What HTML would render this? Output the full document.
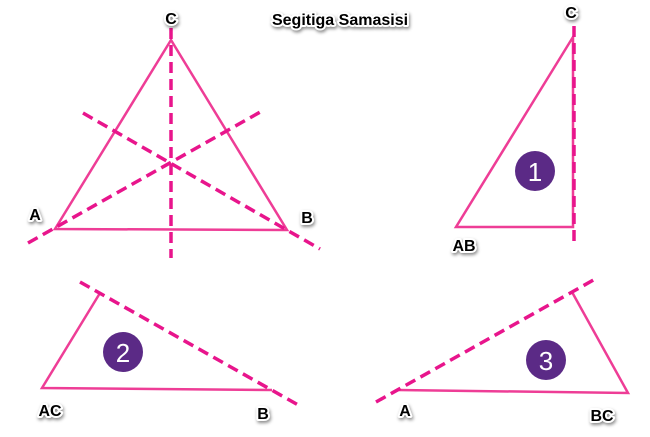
<!DOCTYPE html>
<html><head><meta charset="utf-8"><style>
html,body{margin:0;padding:0;background:#fff;}
svg{display:block}
.l{font-family:"Liberation Sans",sans-serif;font-weight:bold;font-size:16px;fill:#000;stroke:#fff;stroke-width:4px;paint-order:stroke;stroke-linejoin:round;text-anchor:middle;filter:drop-shadow(1px 2px 1.5px rgba(0,0,0,0.45));}
.t{fill:none;stroke:#ee3d96;stroke-width:2.5;stroke-linejoin:miter}
.d{fill:none;stroke:#e8158c;stroke-width:3.5;stroke-dasharray:11 6}
.n{font-family:"Liberation Sans",sans-serif;font-size:26px;fill:#fff;text-anchor:middle}
</style></head><body>
<svg width="650" height="437" viewBox="0 0 650 437">
<polygon class="t" points="171,40 55,229 287,230"/>
<line class="d" x1="171" y1="28" x2="171" y2="258"/>
<line class="d" x1="83" y1="113" x2="320" y2="249"/>
<line class="d" x1="28" y1="243" x2="262" y2="111"/>
<polygon class="t" points="573,37 456,227 573,227"/>
<line class="d" x1="574" y1="26" x2="574" y2="247"/>
<circle cx="535" cy="171" r="20" fill="#5b2a86"/>
<text class="n" x="535" y="181">1</text>
<polyline class="t" points="100,293 42,388 272,390"/>
<line class="d" x1="80" y1="282" x2="300" y2="406"/>
<circle cx="123" cy="352" r="20" fill="#5b2a86"/>
<text class="n" x="123" y="362">2</text>
<polyline class="t" points="398,390 628,393 572,292"/>
<line class="d" x1="376" y1="402" x2="597" y2="278"/>
<circle cx="546" cy="360" r="20" fill="#5b2a86"/>
<text class="n" x="546" y="370">3</text>
<text class="l" x="171" y="24">C</text>
<text class="l" x="340" y="25">Segitiga Samasisi</text>
<text class="l" x="571" y="18">C</text>
<text class="l" x="35" y="220">A</text>
<text class="l" x="307" y="223">B</text>
<text class="l" x="464" y="251">AB</text>
<text class="l" x="50" y="416">AC</text>
<text class="l" x="263" y="419">B</text>
<text class="l" x="405" y="416">A</text>
<text class="l" x="602" y="421">BC</text>
</svg>
</body></html>
